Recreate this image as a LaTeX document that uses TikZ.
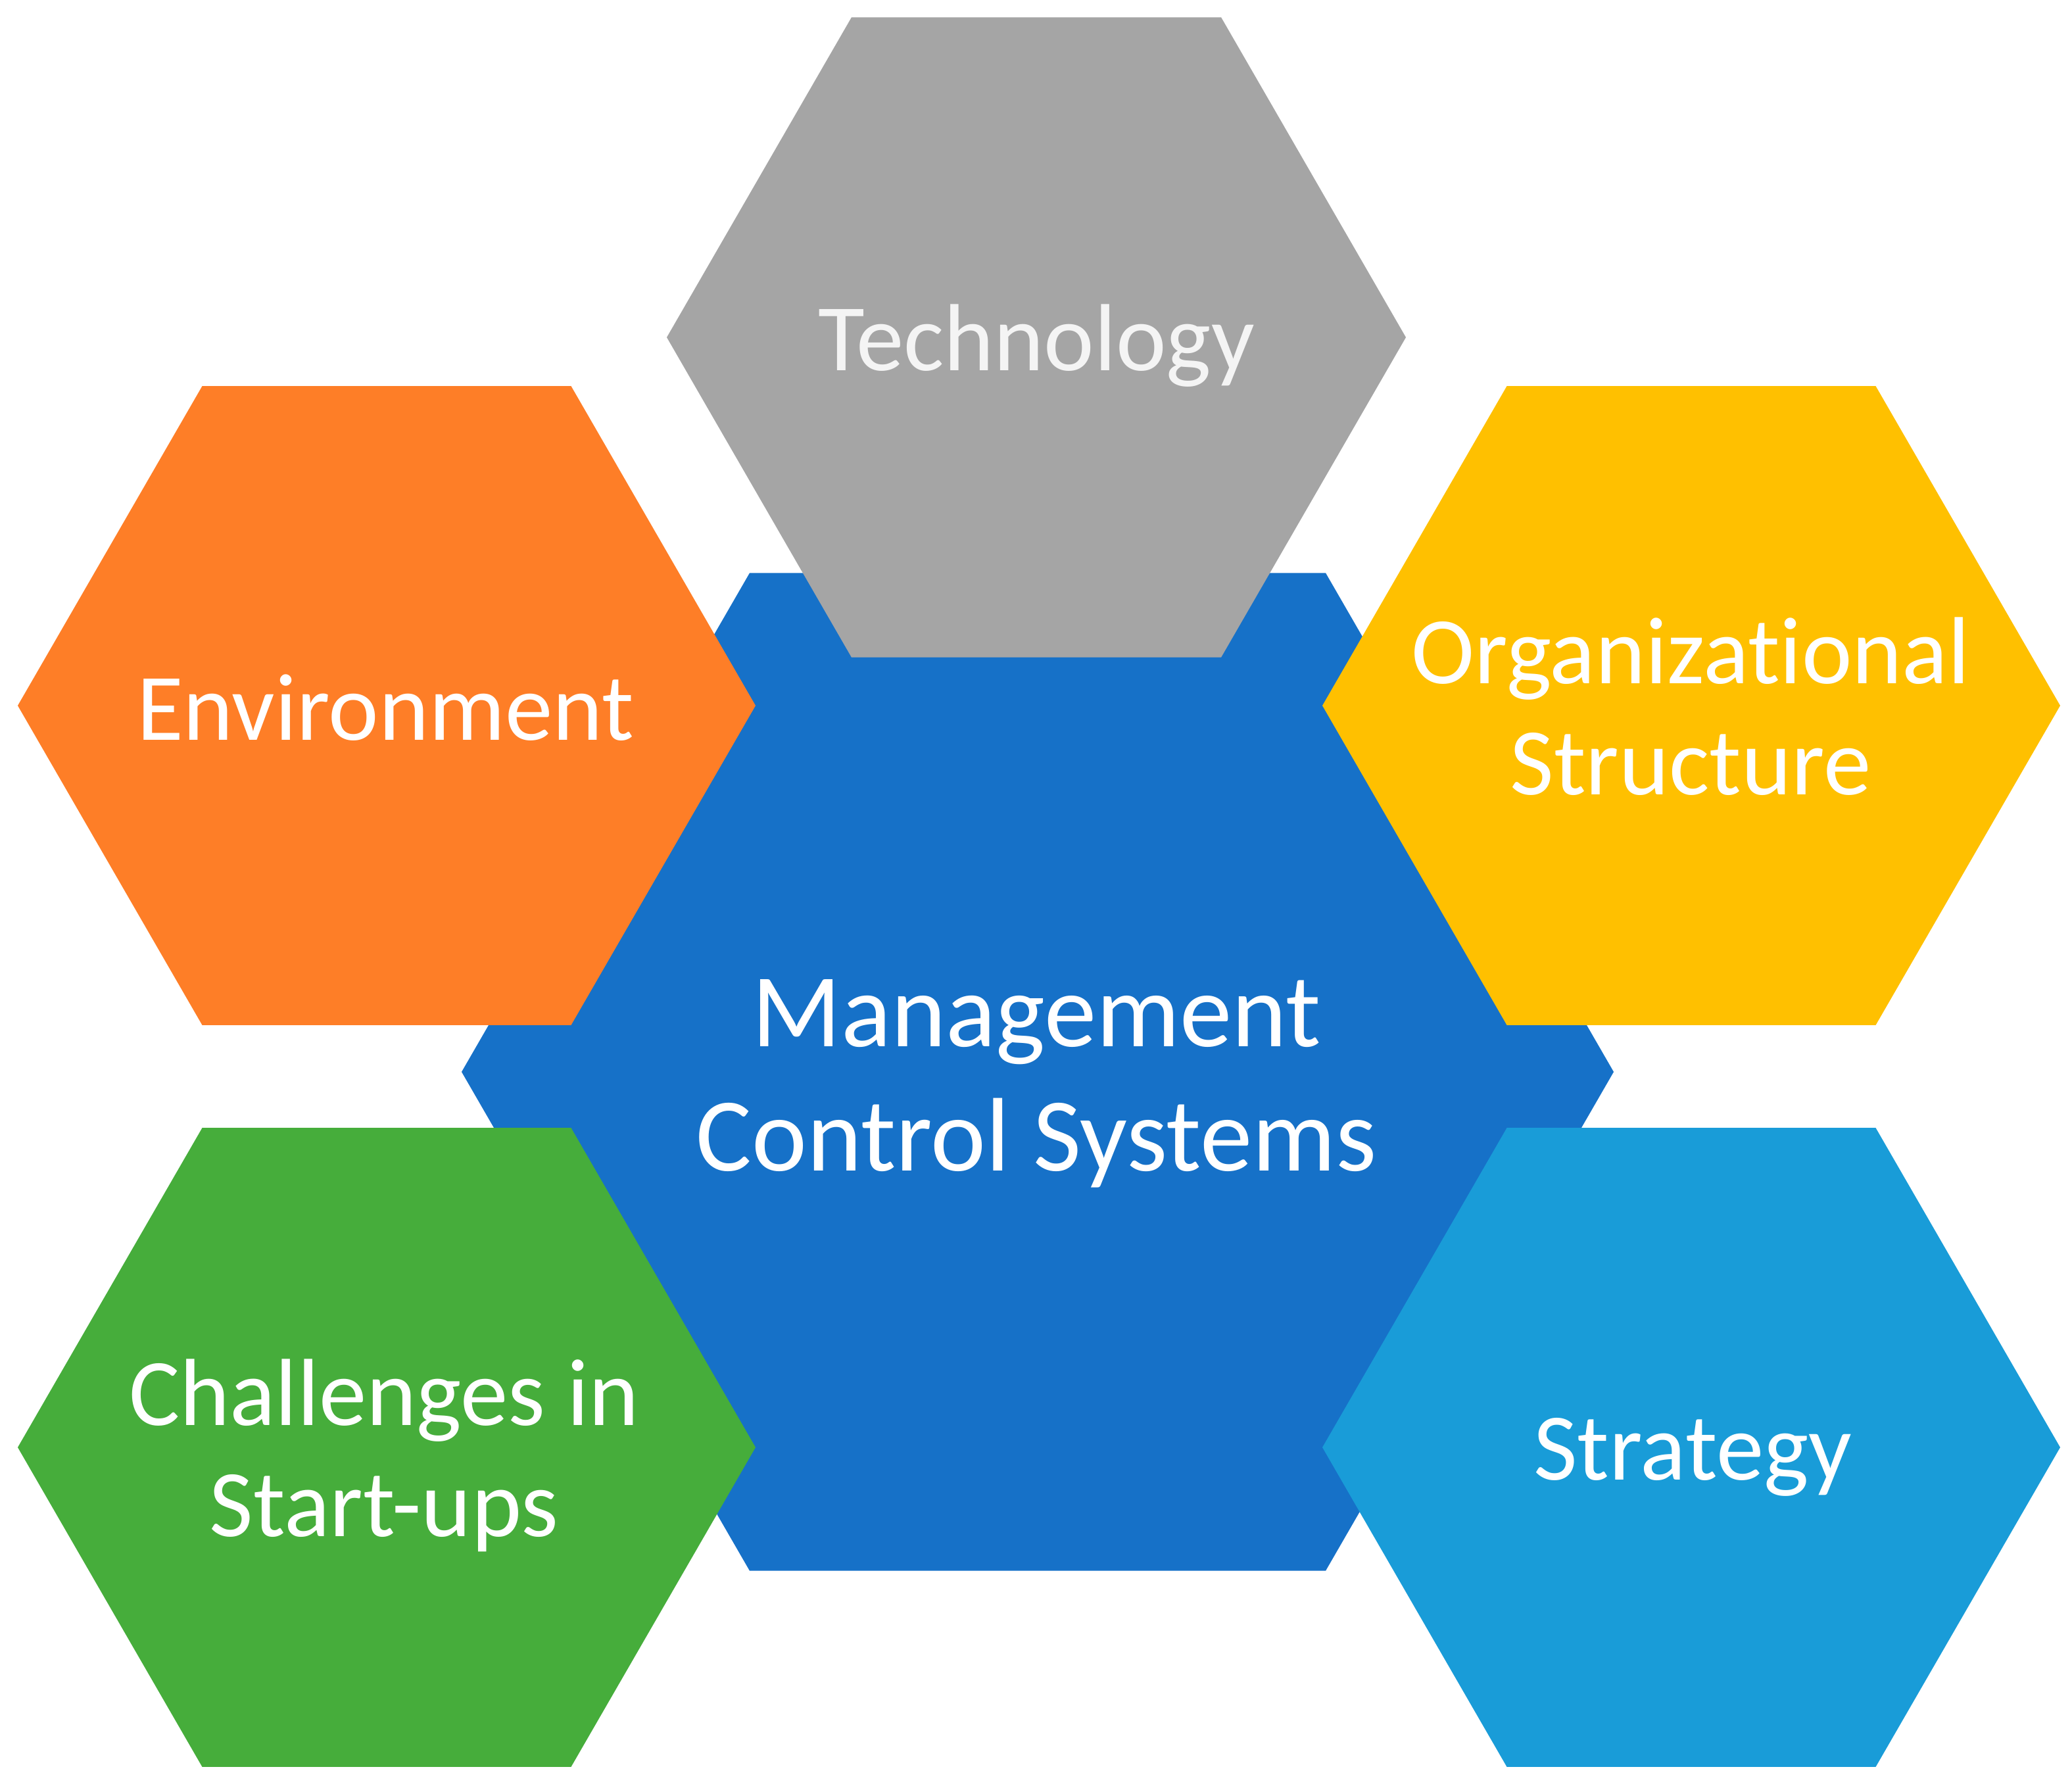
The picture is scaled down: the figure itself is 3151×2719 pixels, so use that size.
\documentclass[tikz,border=0pt]{standalone}
\usepackage{fontspec}
\setmainfont{Carlito}[Ligatures=NoCommon]
\definecolor{cblue}{HTML}{1671C8}
\definecolor{cgray}{HTML}{A5A5A5}
\definecolor{corange}{HTML}{FE7E27}
\definecolor{cyellow}{HTML}{FFC000}
\definecolor{cgreen}{HTML}{46AD3B}
\definecolor{clight}{HTML}{199CD8}
\definecolor{ctext}{HTML}{F4F4F4}
\newcommand{\hexpath}[2]{(#1) ++(0:#2) -- ++(120:#2) -- ++(180:#2) -- ++(240:#2) -- ++(300:#2) -- ++(0:#2) -- cycle}
\tikzset{
  lbl/.style={text=white, align=center, anchor=base, inner sep=0pt, font=\fontsize{145}{169}\selectfont},
  biglbl/.style={lbl, font=\fontsize{159}{189}\selectfont}
}
\begin{document}
\begin{tikzpicture}[x=1pt,y=-1pt]
\useasboundingbox (0,0) rectangle (3151,2719);
\fill[white] (0,0) rectangle (3151,2719);
\coordinate (cM) at (1578,1630);
\coordinate (cT) at (1576,513);
\coordinate (cE) at (588,1073);
\coordinate (cO) at (2572,1073);
\coordinate (cC) at (588,2201);
\coordinate (cS) at (2572,2201);
\fill[cblue] \hexpath{cM}{876};
\fill[cgray] \hexpath{cT}{562};
\fill[corange] \hexpath{cE}{561};
\fill[cyellow] \hexpath{cO}{561};
\fill[cgreen] \hexpath{cC}{561};
\fill[clight] \hexpath{cS}{561};
\node[biglbl] (tM) at (1576,1780) {Management\\Control Systems};
\node[lbl, text=ctext] (tT) at (1576,563) {Technology};
\node[lbl] (tE) at (586,1125) {Environment};
\node[lbl] (tO) at (2571,1208) {Organizational\\Structure};
\node[lbl] (tC) at (584,2336) {Challenges in\\Start-ups};
\node[lbl] (tS) at (2574,2250) {Strategy};
\end{tikzpicture}
\end{document}
